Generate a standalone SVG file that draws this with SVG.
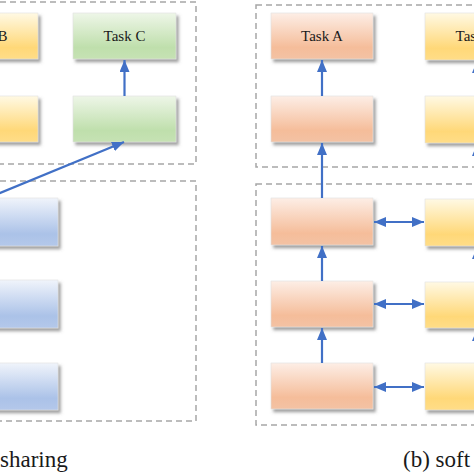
<svg xmlns="http://www.w3.org/2000/svg" width="474" height="474" viewBox="0 0 474 474">
<defs>
<style>
.frame{fill:none;stroke:#a6a6a6;stroke-width:1.5;stroke-dasharray:6 4}
.box{stroke:#e2e2e2;stroke-width:0.6;filter:url(#sh)}
.or{fill:url(#gOr)}
.ye{fill:url(#gYe)}
.gr{fill:url(#gGr)}
.bl{fill:url(#gBl)}
.lbl{font-family:"Liberation Serif","Times New Roman",serif;font-size:15px;fill:#1a1a1a;text-anchor:middle}
.cap{font-family:"Liberation Serif","Times New Roman",serif;font-size:23px;fill:#1a1a1a}
.ar{stroke:#4170c6;stroke-width:2.2;fill:none}
</style>
<linearGradient id="gOr" x1="0" y1="0" x2="0" y2="1"><stop offset="0" stop-color="#fdeee6"/><stop offset="0.75" stop-color="#f5bd9a"/><stop offset="1" stop-color="#f3c2a4"/></linearGradient>
<linearGradient id="gYe" x1="0" y1="0" x2="0" y2="1"><stop offset="0" stop-color="#fff9e4"/><stop offset="0.75" stop-color="#ffd878"/><stop offset="1" stop-color="#ffdd88"/></linearGradient>
<linearGradient id="gGr" x1="0" y1="0" x2="0" y2="1"><stop offset="0" stop-color="#eef6e8"/><stop offset="0.75" stop-color="#bfdfac"/><stop offset="1" stop-color="#c6e2b4"/></linearGradient>
<linearGradient id="gBl" x1="0" y1="0" x2="0" y2="1"><stop offset="0" stop-color="#f0f4fb"/><stop offset="0.75" stop-color="#abc2e8"/><stop offset="1" stop-color="#b4c8ea"/></linearGradient>
<filter id="sh" x="-10%" y="-10%" width="130%" height="140%"><feDropShadow dx="2.5" dy="3" stdDeviation="1.5" flood-color="#666" flood-opacity="0.6"/></filter>
<marker id="ah" viewBox="0 0 12 10" refX="12" refY="5" markerWidth="12" markerHeight="10" markerUnits="userSpaceOnUse" orient="auto-start-reverse"><path d="M0,0 L12,5 L0,10 z" fill="#4170c6"/></marker>
</defs>
<rect width="474" height="474" fill="#ffffff"/>
<g id="frames">
<rect class="frame" x="-200" y="2" width="396" height="162"/>
<rect class="frame" x="-200" y="181" width="396" height="240"/>
<rect class="frame" x="256" y="5" width="400" height="162"/>
<rect class="frame" x="256" y="184" width="400" height="241"/>
</g>
<g id="left-taskB"><rect class="box ye" x="-65" y="13" width="103" height="46"/><text class="lbl" x="-13.5" y="41">Task B</text></g>
<g id="left-yellow2"><rect class="box ye" x="-65" y="96" width="103" height="46"/></g>
<g id="left-taskC"><rect class="box gr" x="73" y="13" width="103" height="46"/><text class="lbl" x="124.5" y="41">Task C</text></g>
<g id="left-green2"><rect class="box gr" x="73" y="96" width="103" height="46"/></g>
<g id="left-blue1"><rect class="box bl" x="-45" y="198" width="103" height="48"/></g>
<g id="left-blue2"><rect class="box bl" x="-45" y="280" width="103" height="48"/></g>
<g id="left-blue3"><rect class="box bl" x="-45" y="363" width="103" height="47"/></g>
<g id="right-taskA"><rect class="box or" x="271" y="13" width="102" height="46"/><text class="lbl" x="322" y="41">Task A</text></g>
<g id="right-orange2"><rect class="box or" x="271" y="96" width="102" height="46"/></g>
<g id="right-orange3"><rect class="box or" x="271" y="198" width="102" height="47"/></g>
<g id="right-orange4"><rect class="box or" x="271" y="281" width="102" height="46"/></g>
<g id="right-orange5"><rect class="box or" x="271" y="363" width="102" height="46"/></g>
<g id="right-taskB"><rect class="box ye" x="425" y="13" width="103" height="47"/><text class="lbl" x="476.5" y="41">Task B</text></g>
<g id="right-yellow2"><rect class="box ye" x="425" y="96" width="103" height="47"/></g>
<g id="right-yellow3"><rect class="box ye" x="425" y="199" width="103" height="47"/></g>
<g id="right-yellow4"><rect class="box ye" x="425" y="282" width="103" height="46"/></g>
<g id="right-yellow5"><rect class="box ye" x="425" y="363" width="103" height="47"/></g>
<g id="connectors">
<line class="ar" x1="124.5" y1="96" x2="124.5" y2="60" marker-end="url(#ah)"/>
<line class="ar" x1="-12" y1="198" x2="124" y2="142" marker-end="url(#ah)"/>
<line class="ar" x1="322" y1="96" x2="322" y2="60" marker-end="url(#ah)"/>
<line class="ar" x1="322" y1="198" x2="322" y2="143" marker-end="url(#ah)"/>
<line class="ar" x1="322" y1="281" x2="322" y2="246" marker-end="url(#ah)"/>
<line class="ar" x1="322" y1="363" x2="322" y2="328" marker-end="url(#ah)"/>
<line class="ar" x1="477" y1="96" x2="477" y2="61" marker-end="url(#ah)"/>
<line class="ar" x1="477" y1="199" x2="477" y2="144" marker-end="url(#ah)"/>
<line class="ar" x1="477" y1="282" x2="477" y2="247" marker-end="url(#ah)"/>
<line class="ar" x1="477" y1="363" x2="477" y2="329" marker-end="url(#ah)"/>
<line class="ar" x1="374" y1="222" x2="424" y2="222" marker-start="url(#ah)" marker-end="url(#ah)"/>
<line class="ar" x1="374" y1="304" x2="424" y2="304" marker-start="url(#ah)" marker-end="url(#ah)"/>
<line class="ar" x1="374" y1="387" x2="424" y2="387" marker-start="url(#ah)" marker-end="url(#ah)"/>
</g>
<g id="captions">
<text class="cap" x="0" y="467">sharing</text>
<text class="cap" x="403" y="467">(b) soft</text>
</g>
</svg>
